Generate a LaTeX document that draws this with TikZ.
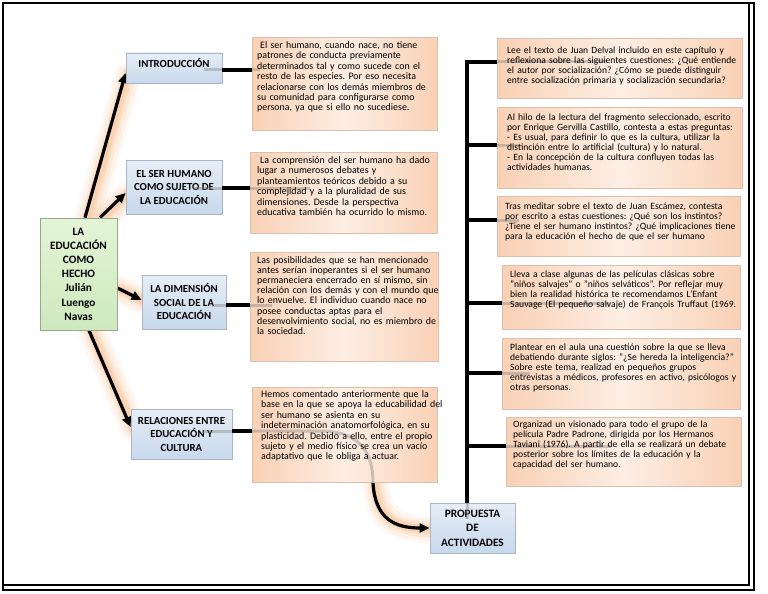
\documentclass[tikz,border=0pt]{standalone}
\usepackage{fontspec}
\setmainfont{Carlito}
\frenchspacing
\usetikzlibrary{arrows.meta,calc,backgrounds}
\definecolor{peachE}{HTML}{F9D1B5}
\definecolor{peachM}{HTML}{FDEEE4}
\definecolor{peachD}{HTML}{DCC0AC}
\definecolor{blueT}{HTML}{E6EEF7}
\definecolor{blueB}{HTML}{C8D8EC}
\definecolor{blueD}{HTML}{A8B7C8}
\definecolor{greenT}{HTML}{E3F4D7}
\definecolor{greenB}{HTML}{CFE8BE}
\definecolor{greenD}{HTML}{94AA86}
\definecolor{glowc}{HTML}{F79646}
\tikzset{
  obox/.style={draw=peachD, line width=0.8pt, left color=peachE, right color=peachE, middle color=peachM, inner sep=0pt, anchor=north west},
  bbox/.style={draw=blueD, line width=0.8pt, top color=blueT, bottom color=blueB, align=center, inner sep=0pt, font=\fontsize{10.8}{13.5}\selectfont\bfseries},
  gbox/.style={draw=greenD, line width=0.8pt, top color=greenT, bottom color=greenB, align=center, inner sep=0pt, font=\fontsize{11.3}{14.2}\selectfont\bfseries},
  ltext/.style={font=\fontsize{9.9}{10.4}\selectfont, text width=195pt, align=left, inner sep=0pt, anchor=base west},
  rtext/.style={font=\fontsize{9.6}{9.9}\selectfont, text width=245pt, align=left, inner sep=0pt, anchor=base west},
  hline/.style={draw=black, line width=4pt},
  tail/.style={draw=gray, line width=3pt, draw opacity=0.4},
  arrowline/.style={draw=black, line width=3.2pt, -{Triangle[length=10pt,width=9pt]}},
  glow/.style={
    preaction={draw=glowc, line width=28pt, draw opacity=0.05, line cap=round, arrows=-, transform canvas={xshift=3pt,yshift=-1.5pt}},
    preaction={draw=glowc, line width=22pt, draw opacity=0.07, line cap=round, arrows=-, transform canvas={xshift=3pt,yshift=-1.5pt}},
    preaction={draw=glowc, line width=16pt, draw opacity=0.09, line cap=round, arrows=-, transform canvas={xshift=3pt,yshift=-1.5pt}},
    preaction={draw=glowc, line width=11pt, draw opacity=0.12, line cap=round, arrows=-, transform canvas={xshift=2.5pt,yshift=-1pt}},
    preaction={draw=glowc, line width=7pt, draw opacity=0.16, line cap=round, arrows=-, transform canvas={xshift=2pt,yshift=-1pt}}},
  framel/.style={draw=black, line width=1.6pt}
}
\begin{document}
\begin{tikzpicture}[x=1pt,y=-1pt]
\useasboundingbox (0,0) rectangle (768,594);
\begin{scope}[on background layer]
  \fill[white] (0,0) rectangle (768,594);
\end{scope}
% frame
\draw[framel] (3,3) rectangle (754,590);
\draw[draw=black, line width=1.2pt] (749,3) -- (749,585) -- (3,585);

% central node
\node[gbox, minimum width=77, minimum height=112] (c) at (78.5,274) {LA\\EDUCACIÓN\\COMO\\HECHO\\Julián\\Luengo\\Navas};

% blue nodes
\node[bbox, minimum width=96, minimum height=30, text depth=10pt] (intro) at (174,68) {INTRODUCCIÓN};
\node[bbox, minimum width=96, minimum height=54] (ser) at (174,187) {EL SER HUMANO\\COMO SUJETO DE\\LA EDUCACIÓN};
\node[bbox, minimum width=84, minimum height=54] (dim) at (184,302) {LA DIMENSIÓN\\SOCIAL DE LA\\EDUCACIÓN};
\node[bbox, minimum width=101, minimum height=50] (rel) at (181.5,434) {RELACIONES ENTRE\\EDUCACIÓN Y\\CULTURA};
\node[bbox, minimum width=85, minimum height=50, font=\fontsize{11.3}{14.5}\selectfont\bfseries] (prop) at (472.5,528) {PROPUESTA\\DE\\ACTIVIDADES};

% left text boxes
\node[obox, minimum width=185, minimum height=93] (t1) at (252,37) {};
\node[obox, minimum width=187, minimum height=81] (t2) at (250,152) {};
\node[obox, minimum width=188, minimum height=109] (t3) at (250,252) {};
\node[obox, minimum width=185, minimum height=95] (t4) at (252,387) {};
% right text boxes
\node[obox, minimum width=245, minimum height=60] (r1) at (497,38) {};
\node[obox, minimum width=245, minimum height=81] (r2) at (497,107) {};
\node[obox, minimum width=243, minimum height=60] (r3) at (497,196) {};
\node[obox, minimum width=238, minimum height=64] (r4) at (502,265) {};
\node[obox, minimum width=238, minimum height=71] (r5) at (502,338) {};
\node[obox, minimum width=235, minimum height=69] (r6) at (506,417) {};

% arrows from the central node (with glow)
\begin{scope}[on background layer]
\draw[arrowline, glow] ($(c.north)+(6.5,0)$) -- ($(intro.west)+(0,5)$);
\draw[arrowline, glow] ($(c.north)+(21.5,0)$) -- ($(ser.west)+(0,6)$);
\draw[arrowline, glow] ($(c.east)+(0,14)$) -- ($(dim.west)+(0,-2)$);
\draw[arrowline, glow] ($(c.south)+(10.5,0)$) -- ($(rel.west)+(0,-7)$);
\draw[arrowline, glow] ($(t4.south west)+(121,0)$) .. controls ($(t4.south west)+(123,36)$) and ($(prop.west)+(-35,0)$) .. (prop.west);
\end{scope}

% left connectors
\draw[tail] ($(intro.east)+(-18,2)$) -- ($(intro.east)+(0,2)$);
\draw[hline] ($(intro.east)+(0,2)$) -- ($(intro.east -| t1.west)+(0,2)$);
\draw[tail] ($(intro.east -| t1.west)+(0,2)$) -- ++(8,0);

\draw[tail] ($(ser.east)+(-29,1)$) -- ($(ser.east)+(0,1)$);
\draw[hline] ($(ser.east)+(0,1)$) -- ($(ser.east -| t2.west)+(0,1)$);
\draw[tail] ($(ser.east -| t2.west)+(0,1)$) -- ++(60,0);

\draw[tail] ($(dim.east)+(-14,3)$) -- ($(dim.east)+(0,3)$);
\draw[hline] ($(dim.east)+(0,3)$) -- ($(dim.east -| t3.west)+(0,3)$);
\draw[tail] ($(dim.east -| t3.west)+(0,3)$) -- ++(22,0);

\draw[tail] ($(rel.east)+(-29,-3)$) -- ($(rel.east)+(0,-3)$);
\draw[hline] ($(rel.east)+(0,-3)$) -- ($(rel.east -| t4.west)+(0,-3)$);
\draw[tail] ($(rel.east -| t4.west)+(0,-3)$) -- ++(68,0) .. controls +(40,0) and +(0,-30) .. ($(t4.south west)+(121,0)$);

% right trunk and branches
\coordinate (b1) at (467,62);
\coordinate (b2) at (467,145);
\coordinate (b3) at (467,220);
\coordinate (b4) at (467,303);
\coordinate (b5) at (467,373);
\coordinate (b6) at (467,446);
\draw[tail] (prop.north -| b1) -- ++(0,16);
\draw[hline] (prop.north -| b1) -- (b1) -- (b1 -| r1.west);
\draw[hline] (b2) -- (b2 -| r2.west);
\draw[hline] (b3) -- (b3 -| r3.west);
\draw[hline] (b4) -- (b4 -| r4.west);
\draw[hline] (b5) -- (b5 -| r5.west);
\draw[hline] (b6) -- (b6 -| r6.west);
\draw[tail] (b1 -| r1.west) -- ++(110,0);
\draw[tail] (b2 -| r2.west) -- ++(22,0);
\draw[tail] (b3 -| r3.west) -- ++(22,0);
\draw[tail] (b4 -| r4.west) -- ++(108,0);
\draw[tail] (b5 -| r5.west) -- ++(28,0);
\draw[tail] (b6 -| r6.west) -- ++(105,0);

% texts
\node[ltext] (t1x) at (257,48.5) {\hspace{3pt}El ser humano, cuando nace, no tiene\\patrones de conducta previamente\\determinados tal y como sucede con el\\resto de las especies. Por eso necesita\\relacionarse con los demás miembros de\\su comunidad para configurarse como\\persona, ya que si ello no sucediese.};
\node[ltext] (t2x) at (257,163.5) {\hspace{3pt}La comprensión del ser humano ha dado\\lugar a numerosos debates y\\planteamientos teóricos debido a su\\complejidad y a la pluralidad de sus\\dimensiones. Desde la perspectiva\\educativa también ha ocurrido lo mismo.};
\node[ltext, font=\fontsize{9.9}{10.1}\selectfont] (t3x) at (257,263.5) {Las posibilidades que se han mencionado\\antes serían inoperantes si el ser humano\\permaneciera encerrado en sí mismo, sin\\relación con los demás y con el mundo que\\lo envuelve. El individuo cuando nace no\\posee conductas aptas para el\\desenvolvimiento social, no es miembro de\\la sociedad.};
\node[ltext] (t4x) at (261,397.5) {Hemos comentado anteriormente que la\\base en la que se apoya la educabilidad del\\ser humano se asienta en su\\indeterminación anatomorfológica, en su\\plasticidad. Debido a ello, entre el propio\\sujeto y el medio físico se crea un vacío\\adaptativo que le obliga a actuar.};

\node[rtext] (r1x) at (507,53.5) {Lee el texto de Juan Delval incluido en este capítulo y\\reflexiona sobre las siguientes cuestiones: ¿Qué entiende\\el autor por socialización? ¿Cómo se puede distinguir\\entre socialización primaria y socialización secundaria?};
\node[rtext] (r2x) at (507,120.5) {Al hilo de la lectura del fragmento seleccionado, escrito\\por Enrique Gervilla Castillo, contesta a estas preguntas:\\- Es usual, para definir lo que es la cultura, utilizar la\\distinción entre lo artificial (cultura) y lo natural.\\- En la concepción de la cultura confluyen todas las\\actividades humanas.};
\node[rtext] (r3x) at (505,209.5) {Tras meditar sobre el texto de Juan Escámez, contesta\\por escrito a estas cuestiones: ¿Qué son los instintos?\\¿Tiene el ser humano instintos? ¿Qué implicaciones tiene\\para la educación el hecho de que el ser humano};
\node[rtext] (r4x) at (510,277.5) {Lleva a clase algunas de las películas clásicas sobre\\"niños salvajes" o "niños selváticos". Por reflejar muy\\bien la realidad histórica te recomendamos L'Enfant\\Sauvage (El pequeño salvaje) de François Truffaut (1969.};
\node[rtext] (r5x) at (510,350.5) {Plantear en el aula una cuestión sobre la que se lleva\\debatiendo durante siglos: "¿Se hereda la inteligencia?"\\Sobre este tema, realizad en pequeños grupos\\entrevistas a médicos, profesores en activo, psicólogos y\\otras personas.};
\node[rtext] (r6x) at (513,427.5) {Organizad un visionado para todo el grupo de la\\película Padre Padrone, dirigida por los Hermanos\\Taviani (1976). A partir de ella se realizará un debate\\posterior sobre los límites de la educación y la\\capacidad del ser humano.};
\end{tikzpicture}
\end{document}
